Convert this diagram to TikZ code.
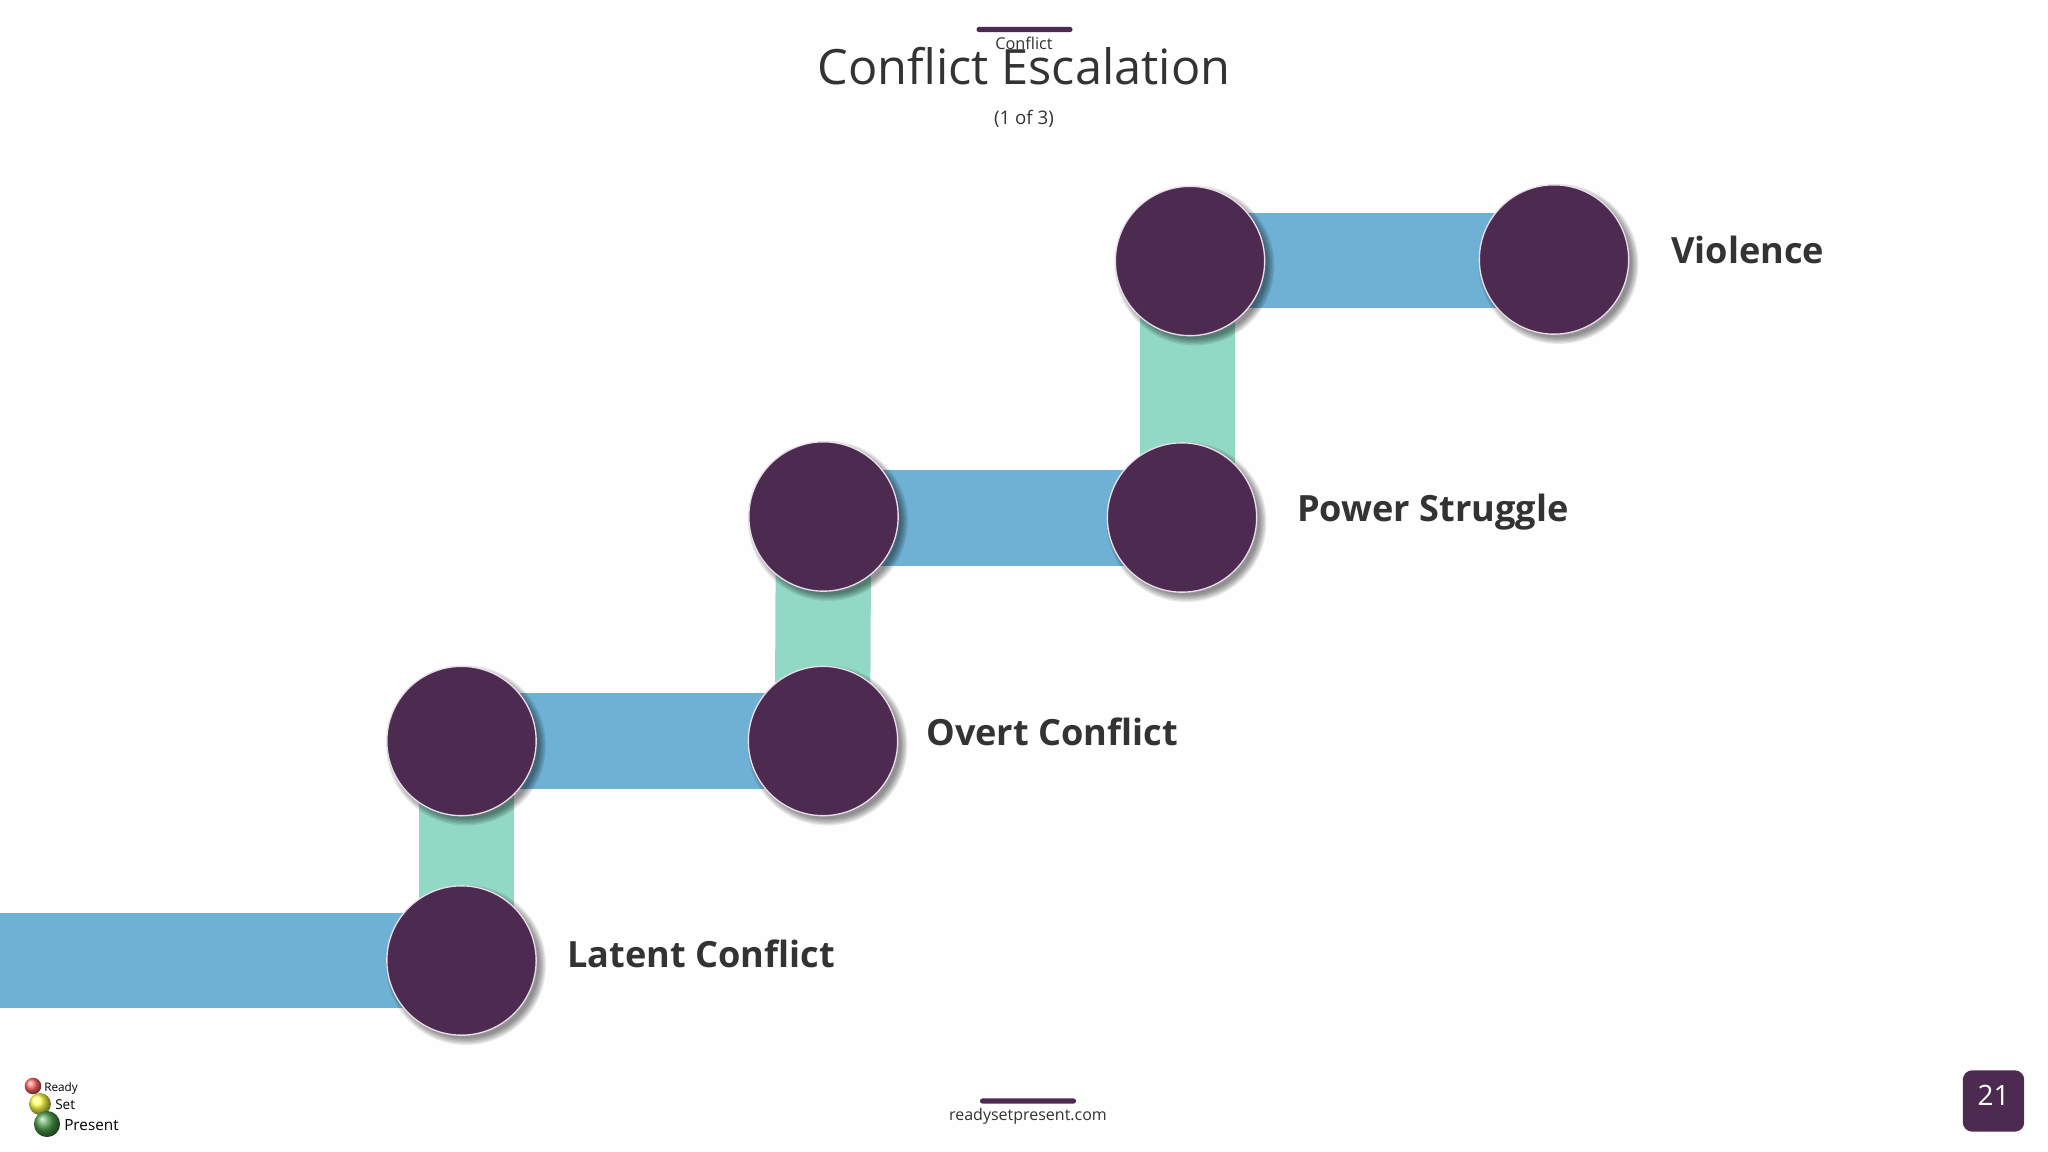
\documentclass[tikz,border=0pt]{standalone}
\usepackage{fontspec}
\setmainfont{Open Sans}
\usetikzlibrary{backgrounds}
\definecolor{plum}{HTML}{4D2B50}
\definecolor{barblue}{HTML}{6FB1D4}
\definecolor{bargreen}{HTML}{91D9C4}
\definecolor{ink}{HTML}{333333}
\definecolor{ringc}{HTML}{E9DDEA}
\pgfdeclarelayer{barlayer}
\pgfdeclarelayer{shadowlayer}
\pgfsetlayers{barlayer,shadowlayer,main}
\tikzset{
  stepdot/.style={circle,fill=plum,draw=ringc,line width=1pt,minimum size=112pt,inner sep=0pt},
  bluebar/.style={draw=barblue,line width=71.5pt},
  greenbar/.style={draw=bargreen,line width=71.5pt},
  steplabel/.style={anchor=base west,font=\fontsize{27.1}{30}\selectfont\bfseries,text=ink,inner sep=0pt},
  accentbar/.style={fill=plum,rounded corners=1.8pt,minimum width=72pt,minimum height=3.8pt,inner sep=0pt},
  logotext/.style={text=black,inner sep=0pt,font=\fontsize{#1}{#1}\selectfont}
}
\newcommand{\softshadow}[1]{%
  \begin{pgfonlayer}{shadowlayer}
  \foreach \rad in {60,59,58,57,56,55}{
    \fill[black,opacity=0.085] ([shift={(4.5,4.5)}]#1.center) circle (\rad pt);
  }
  \end{pgfonlayer}}
\begin{document}
\begin{tikzpicture}[x=0.75pt,y=-0.75pt]
\useasboundingbox (0,0) rectangle (2048,1152);
\begin{pgfonlayer}{barlayer}
\fill[white!99.6!black] (0,0) rectangle (2048,1152);
\end{pgfonlayer}

% circles
\node[stepdot] (c1) at (461.5,960.5) {};
\node[stepdot] (c2) at (461.5,741) {};
\node[stepdot] (c3) at (823,741) {};
\node[stepdot] (c4) at (823.5,516.5) {};
\node[stepdot] (c5) at (1182,517.5) {};
\node[stepdot] (c6) at (1190,261) {};
\node[stepdot] (c7) at (1554,259.5) {};
\coordinate (start) at (0,960.5);

\foreach \n in {c1,c2,c3,c4,c5,c6,c7}{\softshadow{\n}}

% connectors
\begin{pgfonlayer}{barlayer}
\draw[bluebar] (start) -- (c1.center);
\draw[greenbar] ([xshift=3.75pt]c1.center) -- ([xshift=3.75pt]c2.center);
\draw[bluebar] (c2.center) -- (c3.center);
\draw[greenbar] ([xshift=-0.375pt]c3.center) -- (c4.center);
\draw[bluebar] ([yshift=-1pt]c4.center) -- ([yshift=-0.25pt]c5.center);
\draw[greenbar] ([xshift=4pt]c5.center) -- ([xshift=-2pt]c6.center);
\draw[bluebar] ([yshift=0.375pt]c6.center) -- ([yshift=-0.75pt]c7.center);
\end{pgfonlayer}

% step labels
\node[steplabel] (l1) at (567,967) {Latent Conflict};
\node[steplabel] (l2) at (926,745) {Overt Conflict};
\node[steplabel] (l3) at (1297,521) {Power Struggle};
\node[steplabel] (l4) at (1671,263) {Violence};

% header
\node[accentbar] (topbar) at (1024.5,29.5) {};
\node[text=ink,font=\fontsize{12.2}{16}\selectfont,inner sep=0pt] (kicker) at (1024,43) {Conflict};
\node[text=ink,font=\fontsize{36.5}{44}\selectfont,inner sep=0pt] (title) at (1024,66) {Conflict Escalation};
\node[text=ink,font=\fontsize{14}{16}\selectfont,inner sep=0pt] (sub) at (1024,118.5) {(1 of 3)};

% footer
\node[accentbar] (botbar) at (1028,1101) {};
\node[text=ink,font=\fontsize{12}{15}\selectfont,inner sep=0pt] (site) at (1028,1116) {readysetpresent.com};
\node[fill=plum,rounded corners=7pt,minimum size=46pt,inner sep=0pt] (page) at (1993.5,1101) {};
\node[text=white,font=\fontsize{21}{26}\selectfont,inner sep=0pt] (pagenum) at (1993.5,1095.5) {21};

% logo
\shade[ball color=red!60!white] (33,1086) circle (6.2pt);
\shade[ball color=yellow!70!white] (40,1104) circle (8.2pt);
\shade[ball color=green!45!black!70!white] (47,1124) circle (9.8pt);
\node[logotext=8.8,anchor=west] (lg1) at (44,1088) {Ready};
\node[logotext=10.2,anchor=west] (lg2) at (55,1105) {Set};
\node[logotext=11.5,anchor=west] (lg3) at (64,1125) {Present};
\end{tikzpicture}
\end{document}
